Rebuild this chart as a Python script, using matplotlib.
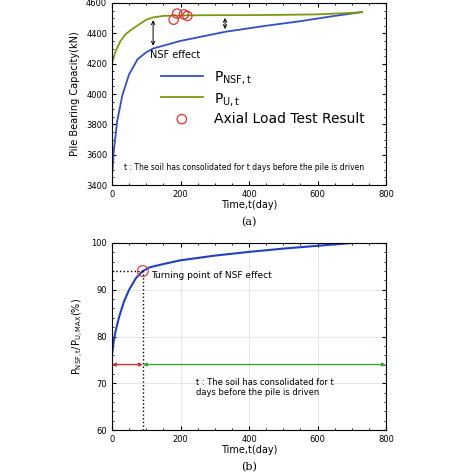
import matplotlib
matplotlib.use('Agg')
import matplotlib.pyplot as plt

t_u = [0, 10, 25, 40, 60, 80, 100, 120, 150, 200, 300, 400, 500, 600, 700, 730]
p_u = [4200, 4280, 4350, 4395, 4430, 4460, 4490, 4505, 4515, 4518, 4520, 4520, 4522, 4525, 4535, 4540]
t_n = [0, 5, 15, 30, 50, 75, 100, 120, 200, 330, 450, 550, 650, 730]
p_n = [3450, 3620, 3820, 3990, 4130, 4230, 4275, 4300, 4350, 4410, 4450, 4480, 4515, 4540]
t_test = [180, 190, 210, 220]
p_test = [4490, 4530, 4525, 4515]

t_r = [0, 5, 10, 20, 35, 50, 70, 90, 110, 150, 200, 300, 400, 500, 600, 700]
r = [76, 79, 81, 84, 87.5, 90, 92.5, 94, 94.8, 95.5, 96.3, 97.3, 98.1, 98.8, 99.4, 100]

fig = plt.figure(figsize=(4.74, 4.74), dpi=100)
ax1 = fig.add_axes([112/474, 1-185/474, 274/474, 182/474])
ax2 = fig.add_axes([112/474, 1-430/474, 274/474, 187/474])
ax1.plot(t_n, p_n, color='#3050c8', lw=1.3, label=r'P$_{\mathregular{NSF,t}}$')
ax1.plot(t_u, p_u, color='#7a9a10', lw=1.3, label=r'P$_{\mathregular{U,t}}$')
ax1.scatter(t_test, p_test, s=45, facecolors='none', edgecolors='#e03030', lw=0.9, label='Axial Load Test Result', zorder=3)
ax1.set_xlim(0, 800); ax1.set_ylim(3400, 4600)
ax1.set_yticks(range(3400, 4601, 200)); ax1.set_xticks(range(0, 801, 200))
ax1.annotate('', xy=(120, 4505), xytext=(120, 4300), arrowprops=dict(arrowstyle='<->', lw=0.7, mutation_scale=6))
ax1.annotate('', xy=(330, 4520), xytext=(330, 4410), arrowprops=dict(arrowstyle='<->', lw=0.7, mutation_scale=6))
ax1.text(110, 4240, 'NSF effect', fontsize=7)
ax1.text(35, 3500, 't : The soil has consolidated for t days before the pile is driven', fontsize=5.5)
ax1.legend(loc='center', bbox_to_anchor=(0.55, 0.48), frameon=False, fontsize=10, handlelength=3,
           borderaxespad=0, labelspacing=0.3)
ax1.set_xlabel('Time,t(day)', fontsize=7, labelpad=1)
ax1.set_ylabel('Pile Bearing Capacity(kN)', fontsize=7)
fig.text(249/474, 1-225/474, '(a)', ha='center', fontsize=8, family='DejaVu Serif')

ax2.plot(t_r, r, color='#2040c0', lw=1.5)
ax2.scatter([90], [94], s=60, facecolors='none', edgecolors='#e03030', lw=0.8, zorder=3)
ax2.plot([0, 90], [94, 94], ':', color='k', lw=1)
ax2.plot([90, 90], [60, 94], ':', color='k', lw=1)
ax2.annotate('', xy=(0, 74), xytext=(90, 74), arrowprops=dict(arrowstyle='<|-|>', color='#d03030', lw=1, mutation_scale=5, shrinkA=0, shrinkB=0))
ax2.annotate('', xy=(90, 74), xytext=(800, 74), arrowprops=dict(arrowstyle='<|-|>', color='#40a040', lw=1, mutation_scale=5, shrinkA=0, shrinkB=0))
ax2.text(115, 92.5, 'Turning point of NSF effect', fontsize=6.5)
ax2.text(245, 67.5, 't : The soil has consolidated for t\ndays before the pile is driven', fontsize=6)
ax2.set_xlim(0, 800); ax2.set_ylim(60, 100)
ax2.set_xticks(range(0, 801, 200)); ax2.set_yticks(range(60, 101, 10))
ax2.grid(color='#e0e0e0', lw=0.6)
ax2.set_xlabel('Time,t(day)', fontsize=7, labelpad=1)
ax2.set_ylabel(r'P$_{\mathregular{NSF,t}}$/P$_{\mathregular{U,MAX}}$(%)', fontsize=7)
fig.text(249/474, 1-470/474, '(b)', ha='center', fontsize=8, family='DejaVu Serif')
for ax in (ax1, ax2):
    ax.tick_params(labelsize=6, direction='in', length=3, top=True, right=True)
    ax.minorticks_on()
    ax.tick_params(which='minor', direction='in', length=1.5, top=True, right=True)
fig.savefig('out.png', dpi=100)
